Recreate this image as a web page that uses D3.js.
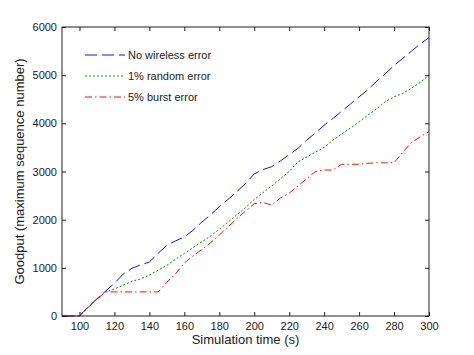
<!DOCTYPE html>
<html><head><meta charset="utf-8">
<script src="https://cdn.jsdelivr.net/npm/d3@7"></script>
<style>body{margin:0;background:#fff;}svg{display:block;font-family:"Liberation Sans",Arial,sans-serif;}</style>
</head><body>
<svg id="c" width="474" height="355"></svg>
<script>
const times = [90,100,105,110,115,120,125,130,135,140,145,150,155,160,165,170,175,180,185,190,195,200,205,210,215,220,225,230,235,240,245,250,255,260,265,270,275,280,285,290,295,300];
const noError = [0,0,190,360,520,680,870,990,1060,1120,1300,1470,1560,1640,1780,1950,2100,2270,2420,2580,2750,2950,3040,3100,3220,3350,3480,3650,3800,3960,4100,4250,4400,4550,4700,4870,5030,5200,5350,5500,5650,5780];
const randomErr = [0,0,180,350,500,560,640,720,770,850,950,1050,1180,1300,1420,1540,1660,1800,1950,2100,2250,2420,2560,2700,2850,3000,3200,3300,3400,3500,3650,3780,3900,4030,4170,4300,4450,4550,4620,4730,4850,5000];
const burstErr = [0,0,180,350,500,500,500,500,500,500,500,700,880,1100,1250,1380,1520,1680,1850,2020,2180,2330,2360,2300,2450,2550,2700,2850,3000,3030,3030,3150,3150,3150,3170,3180,3180,3180,3400,3600,3720,3830];
const xTicks = [100,120,140,160,180,200,220,240,260,280,300];
const yTicks = [0,1000,2000,3000,4000,5000,6000];
const seriesNames = ["No wireless error","1% random error","5% burst error"];

const svg = d3.select("#c");
const L=62,T=27,R=429,B=316;
const x = d3.scaleLinear().domain([90,300]).range([L,R]);
const y = d3.scaleLinear().domain([0,6000]).range([B,T]);
const ax = "#222";
const fmt = d3.format("d");

const series = [
  {name:seriesNames[0], vals:noError, color:"#1010ee", dash:"12,5"},
  {name:seriesNames[1], vals:randomErr, color:"#0a8a0a", dash:"2,2"},
  {name:seriesNames[2], vals:burstErr, color:"#ee1010", dash:"7,3,1.5,3"}
];

const line = d3.line().x((d,i)=>x(times[i])).y(d=>y(d));
series.forEach(s=>{
  svg.append("path").attr("d",line(s.vals)).attr("fill","none")
    .attr("stroke",s.color).attr("stroke-width",1).attr("stroke-dasharray",s.dash);
});

const gx = svg.append("g").attr("transform",`translate(0,${B})`)
  .call(d3.axisBottom(x).tickValues(xTicks).tickFormat(fmt).tickSizeInner(-4).tickSizeOuter(0).tickPadding(6));
const gxt = svg.append("g").attr("transform",`translate(0,${T})`)
  .call(d3.axisTop(x).tickValues(xTicks).tickSizeInner(-4).tickSizeOuter(0).tickFormat(""));
const gy = svg.append("g").attr("transform",`translate(${L},0)`)
  .call(d3.axisLeft(y).tickValues(yTicks).tickFormat(fmt).tickSizeInner(-4).tickSizeOuter(0).tickPadding(5));
const gyr = svg.append("g").attr("transform",`translate(${R},0)`)
  .call(d3.axisRight(y).tickValues(yTicks).tickSizeInner(-4).tickSizeOuter(0).tickFormat(""));
[gx,gxt,gy,gyr].forEach(g=>{
  g.select(".domain").remove();
  g.selectAll("line").attr("stroke",ax);
  g.selectAll("text").attr("fill",ax).style("font-size","11px").style("font-family",'"Liberation Sans",Arial,sans-serif');
});
svg.append("rect").attr("x",L).attr("y",T).attr("width",R-L).attr("height",B-T)
  .attr("fill","none").attr("stroke",ax).attr("stroke-width",1);

series.forEach((s,i)=>{
  const ly = 55 + i*21;
  svg.append("line").attr("x1",85).attr("x2",125).attr("y1",ly).attr("y2",ly)
    .attr("stroke",s.color).attr("stroke-dasharray",s.dash);
  svg.append("text").attr("x",128).attr("y",ly+4).text(s.name)
    .attr("fill",ax).style("font-size","11px");
});

svg.append("text").attr("x",(L+R)/2).attr("y",344).attr("text-anchor","middle")
  .attr("fill",ax).style("font-size","13px").text("Simulation time (s)");
svg.append("text").attr("transform",`translate(24,${(T+B)/2}) rotate(-90)`).attr("text-anchor","middle")
  .attr("fill",ax).style("font-size","13px").text("Goodput (maximum sequence number)");
</script>
</body></html>
